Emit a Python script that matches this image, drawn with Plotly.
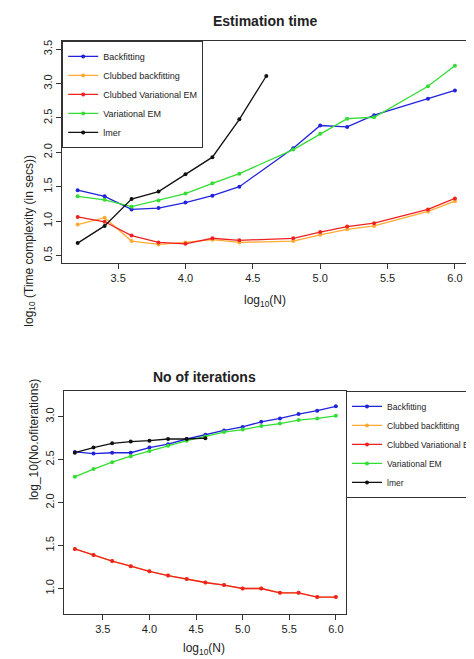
import plotly.graph_objects as go

x_top = [3.2, 3.4, 3.6, 3.8, 4.0, 4.2, 4.4, 4.8, 5.0, 5.2, 5.4, 5.8, 6.0]
bf_top = [1.45, 1.36, 1.17, 1.19, 1.27, 1.37, 1.50, 2.06, 2.39, 2.37, 2.54, 2.78, 2.90]
cbf_top = [0.95, 1.05, 0.71, 0.66, 0.69, 0.73, 0.69, 0.71, 0.80, 0.88, 0.93, 1.14, 1.29]
cvem_top = [1.06, 0.99, 0.79, 0.69, 0.67, 0.75, 0.72, 0.75, 0.84, 0.92, 0.97, 1.17, 1.33]
vem_top = [1.36, 1.31, 1.21, 1.30, 1.40, 1.55, 1.69, 2.04, 2.27, 2.49, 2.51, 2.96, 3.26]
x_lmer_top = [3.2, 3.4, 3.6, 3.8, 4.0, 4.2, 4.4, 4.6]
lmer_top = [0.68, 0.93, 1.32, 1.43, 1.68, 1.93, 2.48, 3.11]

x_bot = [3.2, 3.4, 3.6, 3.8, 4.0, 4.2, 4.4, 4.6, 4.8, 5.0, 5.2, 5.4, 5.6, 5.8, 6.0]
bf_bot = [2.59, 2.57, 2.58, 2.58, 2.64, 2.68, 2.74, 2.79, 2.84, 2.88, 2.94, 2.98, 3.03, 3.07, 3.12]
cbf_bot = [1.46, 1.39, 1.32, 1.26, 1.20, 1.15, 1.11, 1.07, 1.04, 1.00, 1.00, 0.95, 0.95, 0.90, 0.90]
cvem_bot = [1.46, 1.39, 1.32, 1.26, 1.20, 1.15, 1.11, 1.07, 1.04, 1.00, 1.00, 0.95, 0.95, 0.90, 0.90]
vem_bot = [2.30, 2.39, 2.47, 2.54, 2.60, 2.66, 2.72, 2.77, 2.82, 2.85, 2.89, 2.92, 2.96, 2.98, 3.01]
x_lmer_bot = [3.2, 3.4, 3.6, 3.8, 4.0, 4.2, 4.4, 4.6]
lmer_bot = [2.58, 2.64, 2.69, 2.71, 2.72, 2.74, 2.74, 2.75]

names = ["Backfitting", "Clubbed backfitting", "Clubbed Variational EM", "Variational EM", "lmer"]
colors = ["#2222dd", "#ffaa33", "#ee2222", "#33dd33", "#111111"]

fig = go.Figure()
top = [(x_top, bf_top), (x_top, cbf_top), (x_top, cvem_top), (x_top, vem_top), (x_lmer_top, lmer_top)]
bot = [(x_bot, bf_bot), (x_bot, cbf_bot), (x_bot, cvem_bot), (x_bot, vem_bot), (x_lmer_bot, lmer_bot)]
for (xs, ys), n, c in zip(top, names, colors):
    fig.add_trace(go.Scatter(x=xs, y=ys, name=n, mode="lines+markers",
                             line=dict(color=c, width=1.3), marker=dict(size=4, color=c),
                             xaxis="x", yaxis="y", legend="legend"))
for (xs, ys), n, c in zip(bot, names, colors):
    fig.add_trace(go.Scatter(x=xs, y=ys, name=n, mode="lines+markers",
                             line=dict(color=c, width=1.3), marker=dict(size=4, color=c),
                             xaxis="x2", yaxis="y2", legend="legend2"))

ax = dict(showline=True, mirror=True, linecolor="#333", linewidth=1, ticks="outside",
          ticklen=5, tickcolor="#333", showgrid=False, zeroline=False,
          tickfont=dict(size=11, color="#222"))
fig.update_layout(
    width=474, height=659, margin=dict(l=0, r=0, t=0, b=0),
    paper_bgcolor="white", plot_bgcolor="white",
    font=dict(family="Liberation Sans, Arial", color="#222"),
    xaxis=dict(ax, domain=[0.116, 0.985], range=[3.085, 6.097], tickvals=[3.5, 4.0, 4.5, 5.0, 5.5, 6.0],
               ticktext=["3.5", "4.0", "4.5", "5.0", "5.5", "6.0"], anchor="y"),
    yaxis=dict(ax, domain=[0.613, 0.950], range=[0.39, 3.62], tickvals=[0.5, 1, 1.5, 2, 2.5, 3, 3.5],
               ticktext=["0.5", "1.0", "1.5", "2.0", "2.5", "3.0", "3.5"], tickangle=-90, anchor="x"),
    xaxis2=dict(ax, domain=[0.120, 0.724], range=[3.084, 6.11], tickvals=[3.5, 4.0, 4.5, 5.0, 5.5, 6.0],
                ticktext=["3.5", "4.0", "4.5", "5.0", "5.5", "6.0"], anchor="y2"),
    yaxis2=dict(ax, domain=[0.080, 0.419], range=[0.70, 3.30], tickvals=[1, 1.5, 2, 2.5, 3],
                ticktext=["1.0", "1.5", "2.0", "2.5", "3.0"], tickangle=-90, anchor="x2"),
    legend=dict(x=0.116, y=0.950, xanchor="left", yanchor="top", bordercolor="#333", borderwidth=1,
                bgcolor="white", font=dict(size=9), tracegroupgap=0, itemwidth=30),
    legend2=dict(x=0.724, y=0.419, xanchor="left", yanchor="top", bordercolor="#333", borderwidth=1,
                 bgcolor="white", font=dict(size=8.5), tracegroupgap=0, itemwidth=30),
    annotations=[
        dict(text="<b>Estimation time</b>", x=0.55, y=0.995, xref="paper", yref="paper", showarrow=False,
             font=dict(size=14), yanchor="top"),
        dict(text="<b>No of iterations</b>", x=0.42, y=0.455, xref="paper", yref="paper", showarrow=False,
             font=dict(size=14), yanchor="top"),
        dict(text="log<sub>10</sub>(N)", x=0.55, y=0.555, xref="paper", yref="paper", showarrow=False,
             font=dict(size=12)),
        dict(text="log<sub>10</sub>(N)", x=0.42, y=0.012, xref="paper", yref="paper", showarrow=False,
             font=dict(size=12)),
        dict(text="log<sub>10</sub> (Time complexity (in secs))", x=0.025, y=0.78, xref="paper", yref="paper",
             showarrow=False, textangle=-90, font=dict(size=12)),
        dict(text="log_10(No.ofiterations)", x=0.035, y=0.25, xref="paper", yref="paper",
             showarrow=False, textangle=-90, font=dict(size=12)),
    ],
)
fig.write_html("out.html")
